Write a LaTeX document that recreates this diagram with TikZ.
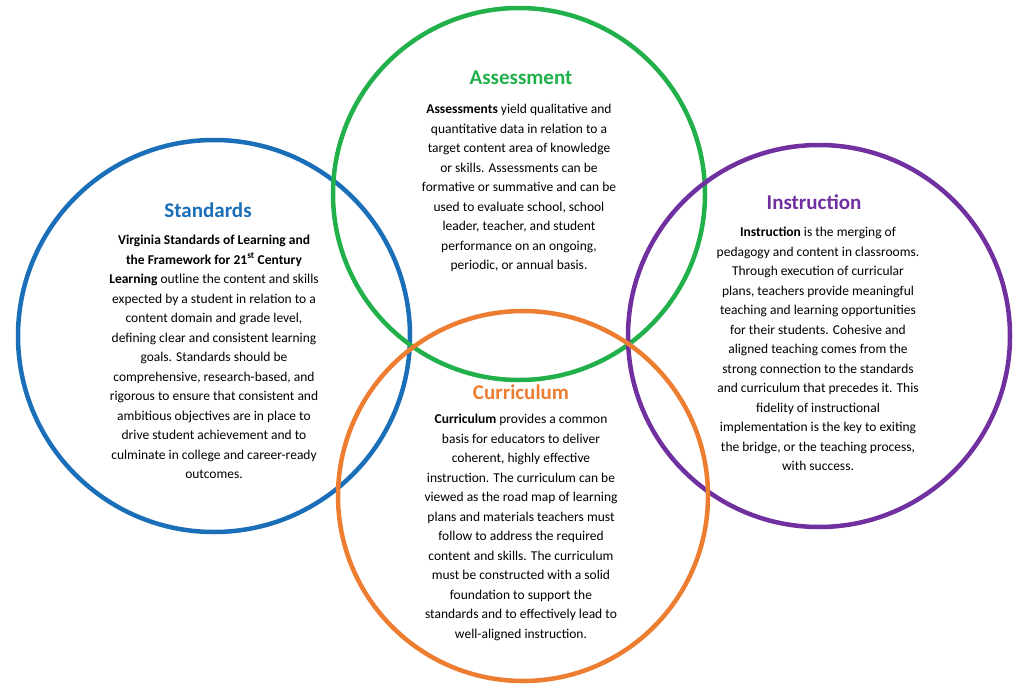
\documentclass[tikz,border=0pt]{standalone}
\usepackage{fontspec}
\setmainfont{Carlito}
\definecolor{cblue}{HTML}{1B6FB8}
\definecolor{cgreen}{HTML}{22B04B}
\definecolor{cpurple}{HTML}{7030A0}
\definecolor{corange}{HTML}{ED7D31}
\begin{document}
\begin{tikzpicture}[x=1pt,y=-1pt,
 ring/.style={draw=#1,line width=4.5pt},
 ttl/.style={text=#1,font=\fontsize{21}{24}\selectfont\bfseries},
 body/.style={align=center,anchor=north,font=\fontsize{13.5}{19.5}\selectfont,inner sep=0pt}]
\useasboundingbox[fill=white] (0,0) rectangle (1028,685);
\draw[ring=cblue] (214,336) circle (196);
\draw[ring=cgreen] (519,194) circle (186);
\draw[ring=cpurple] (819,336) circle (191);
\draw[ring=corange] (523,496) circle (185);
\node[ttl=cblue] (ts) at (208,210) {Standards};
\node[ttl=cgreen] (ta) at (521,78) {Assessment};
\node[ttl=cpurple] (ti) at (814,202) {Instruction};
\node[ttl=corange] (tc) at (521,392) {Curriculum};
\node[body] (bs) at (214,235) {\textbf{Virginia Standards of Learning and}\\ \textbf{the Framework for 21\textsuperscript{st} Century}\\ \textbf{Learning} outline the content and skills\\ expected by a student in relation to a\\ content domain and grade level,\\ defining clear and consistent learning\\ goals. Standards should be\\ comprehensive, research-based, and\\ rigorous to ensure that consistent and\\ ambitious objectives are in place to\\ drive student achievement and to\\ culminate in college and career-ready\\ outcomes.};
\node[body] (ba) at (519,104) {\textbf{Assessments} yield qualitative and\\ quantitative data in relation to a\\ target content area of knowledge\\ or skills. Assessments can be\\ formative or summative and can be\\ used to evaluate school, school\\ leader, teacher, and student\\ performance on an ongoing,\\ periodic, or annual basis.};
\node[body] (bi) at (818,227) {\textbf{Instruction} is the merging of\\ pedagogy and content in classrooms.\\ Through execution of curricular\\ plans, teachers provide meaningful\\ teaching and learning opportunities\\ for their students. Cohesive and\\ aligned teaching comes from the\\ strong connection to the standards\\ and curriculum that precedes it. This\\ fidelity of instructional\\ implementation is the key to exiting\\ the bridge, or the teaching process,\\ with success.};
\node[body] (bc) at (521,414) {\textbf{Curriculum} provides a common\\ basis for educators to deliver\\ coherent, highly effective\\ instruction. The curriculum can be\\ viewed as the road map of learning\\ plans and materials teachers must\\ follow to address the required\\ content and skills. The curriculum\\ must be constructed with a solid\\ foundation to support the\\ standards and to effectively lead to\\ well-aligned instruction.};
\end{tikzpicture}
\end{document}
